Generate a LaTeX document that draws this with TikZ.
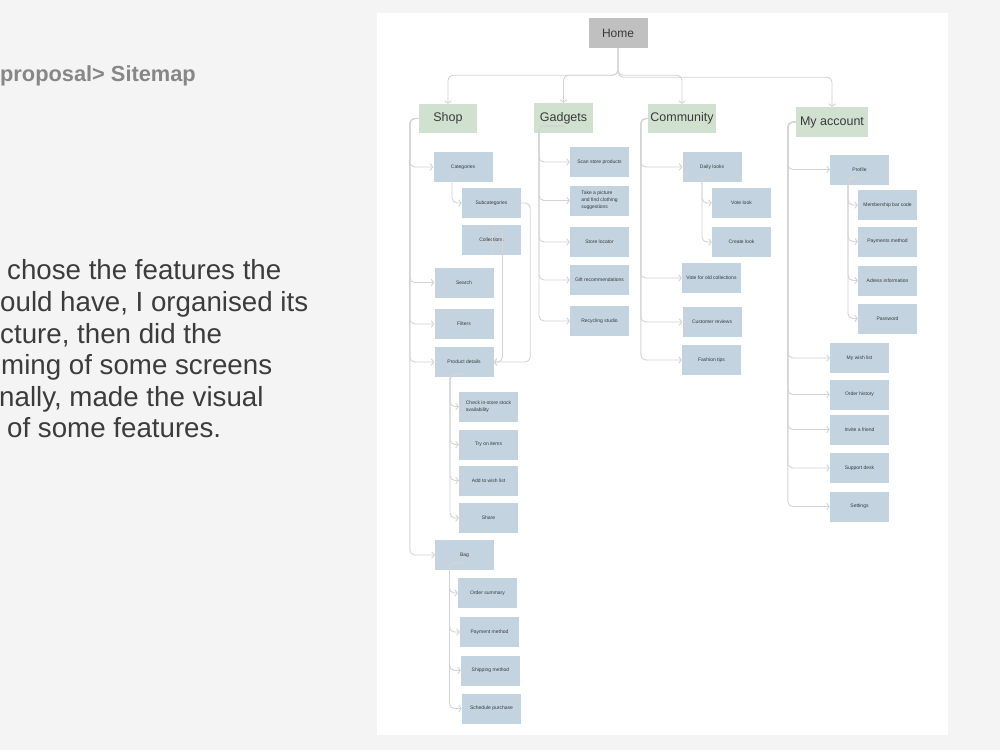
\documentclass[tikz,border=0pt]{standalone}
\usepackage{fontspec}
\setmainfont{Liberation Sans}
\usetikzlibrary{arrows.meta,calc}
\definecolor{bgcol}{HTML}{F4F4F4}
\definecolor{leafcol}{HTML}{C3D4E0}
\definecolor{topcol}{HTML}{D0E2CF}
\definecolor{homecol}{HTML}{C0C0C0}
\definecolor{linecol}{HTML}{D4D4D4}
\definecolor{txtcol}{HTML}{3A3A3A}
\definecolor{bodycol}{HTML}{3C3C3C}
\definecolor{titlecol}{HTML}{878787}
\tikzset{
  leaf/.style={fill=leafcol, minimum width=59pt, minimum height=30pt, inner sep=1pt,
    font=\fontsize{5}{7}\selectfont, text=txtcol},
  topbox/.style={fill=topcol, minimum height=29pt, inner sep=2pt,
    font=\fontsize{12.5}{14}\selectfont, text=txtcol},
  homebox/.style={fill=homecol, minimum width=59pt, minimum height=30pt, inner sep=2pt,
    font=\fontsize{12}{14}\selectfont, text=txtcol},
  conn/.style={draw=linecol, line width=0.9pt, rounded corners=5pt,
    -{Straight Barb[length=2.5pt,width=6.5pt]}},
  bodytxt/.style={anchor=base west, inner sep=0pt, text=bodycol,
    font=\fontsize{27.7}{32}\selectfont},
}
\begin{document}
\begin{tikzpicture}[x=1pt,y=-1pt]
\useasboundingbox (0,0) rectangle (1000,750);
\fill[bgcol] (0,0) rectangle (1000,750);
\fill[white] (377,13) rectangle (948,735);

% left texts
\begin{scope}
\clip (0,0) rectangle (1000,750);
\node[anchor=base east, inner sep=0pt, text=titlecol, font=\fontsize{21.8}{26}\selectfont\bfseries] (title) at (196,81.5) {proposal> Sitemap};
\node[bodytxt] (l1) at (7,279) {chose the features the};
\node[bodytxt] (l2) at (0,311) {ould have, I organised its};
\node[bodytxt] (l3) at (0,343) {cture, then did the};
\node[bodytxt] (l4) at (1,374) {ming of some screens};
\node[bodytxt] (l5) at (-1,406) {nally, made the visual};
\node[bodytxt] (l6) at (7,437.5) {of some features.};
\end{scope}

% top levels
\node[homebox] (home) at (618,33) {Home};
\node[topbox, minimum width=58pt] (shop) at (448,118.5) {Shop};
\node[topbox, minimum width=59pt, minimum height=30pt] (gad) at (563.5,118) {Gadgets};
\node[topbox, minimum width=68pt] (com) at (682,118.5) {Community};
\node[topbox, minimum width=72pt, minimum height=30pt] (acc) at (832,122) {My account};

% shop
\node[leaf] (cat) at (463,167) {Categories};
\node[leaf] (subcat) at (491.5,203) {Subcategories};
\node[leaf] (coll) at (491.5,239.5) {Collections};
\node[leaf] (search) at (464,282.5) {Search};
\node[leaf] (filt) at (464,324) {Filters};
\node[leaf] (pd) at (464,362) {Product details};
\node[leaf, align=left] (chk) at (488.5,406.5) {Check in-store stock\\availability};
\node[leaf] (tryon) at (488.5,444.5) {Try on items};
\node[leaf] (wish) at (488.5,480.5) {Add to wish list};
\node[leaf] (share) at (488.5,518) {Share};
\node[leaf] (bag) at (464.5,555) {Bag};
\node[leaf] (ord) at (487.5,593) {Order summary};
\node[leaf] (pay) at (489.5,632) {Payment method};
\node[leaf] (ship) at (490.5,670.5) {Shipping method};
\node[leaf] (sched) at (491.5,708.5) {Schedule purchase};

% gadgets
\node[leaf] (g1) at (599.5,162) {Scan store products};
\node[leaf, align=left] (g2) at (599.5,200.5) {Take a picture\\and find clothing\\suggestions};
\node[leaf] (g3) at (599.5,242) {Store locator};
\node[leaf] (g4) at (599.5,280) {Gift recommendations};
\node[leaf] (g5) at (599.5,321) {Recycling studio};

% community
\node[leaf] (dl) at (712,167) {Daily looks};
\node[leaf] (vote) at (741.5,203) {Vote look};
\node[leaf] (create) at (741.5,242) {Create look};
\node[leaf] (vold) at (711.5,278) {Vote for old collections};
\node[leaf] (crev) at (712,322) {Customer reviews};
\node[leaf] (ftips) at (711.5,360) {Fashion tips};

% my account
\node[leaf] (prof) at (859.5,169.5) {Profile};
\node[leaf] (memb) at (887.5,205) {Membership bar code};
\node[leaf] (paym) at (887.5,241.5) {Payments method};
\node[leaf] (addr) at (887.5,280.5) {Adress information};
\node[leaf] (pwd) at (887.5,318.5) {Password};
\node[leaf] (mwl) at (859.5,358) {My wish list};
\node[leaf] (ohist) at (859.5,394.5) {Order history};
\node[leaf] (inv) at (859.5,429.5) {Invite a friend};
\node[leaf] (supp) at (859.5,468) {Support desk};
\node[leaf] (sett) at (859.5,506.5) {Settings};

% connectors from home
\draw[conn] (home.south) -- ++(0,27) -| (shop.north);
\draw[conn] (home.south) -- ++(0,27) -| (gad.north);
\draw[conn] (home.south) -- ++(0,27) -| (com.north);
\draw[conn] (home.south) -- ++(0,29) -| (acc.north);

% shop
\foreach \c in {cat,search,filt,pd,bag}
  \draw[conn] (shop.west) -- ++(-9,0) |- (\c.west);
\draw[conn] ($(cat.center)+(0,6)$) -- ++(-11,0) |- (subcat.west);
\draw[conn] (subcat.east) -- ++(9,0) |- (pd.east);
\draw[conn] ($(coll.center)+(1,12)$) -- ++(0,-22) -- ++(10,0) |- (pd.east);
\foreach \c in {chk,tryon,wish,share}
  \draw[conn] ($(pd.center)+(0,12)$) -- ++(-14,0) |- (\c.west);
\foreach \c in {ord,pay,ship,sched}
  \draw[conn] ($(bag.center)+(0,8)$) -- ++(-15,0) |- (\c.west);

% gadgets
\foreach \c in {g1,g2,g3,g4,g5}
  \draw[conn] ($(gad.center)+(0,8)$) -- ++(-24.5,0) |- (\c.west);

% community
\foreach \c in {dl,vold,crev,ftips}
  \draw[conn] (com.west) -- ++(-7,0) |- (\c.west);
\foreach \c in {vote,create}
  \draw[conn] ($(dl.center)+(0,10)$) -- ++(-10,0) |- (\c.west);

% my account
\foreach \c in {prof,mwl,ohist,inv,supp,sett}
  \draw[conn] (acc.west) -- ++(-8,0) |- (\c.west);
\foreach \c in {memb,paym,addr,pwd}
  \draw[conn] ($(prof.center)+(0,8)$) -- ++(-11.5,0) |- (\c.west);
\end{tikzpicture}
\end{document}
